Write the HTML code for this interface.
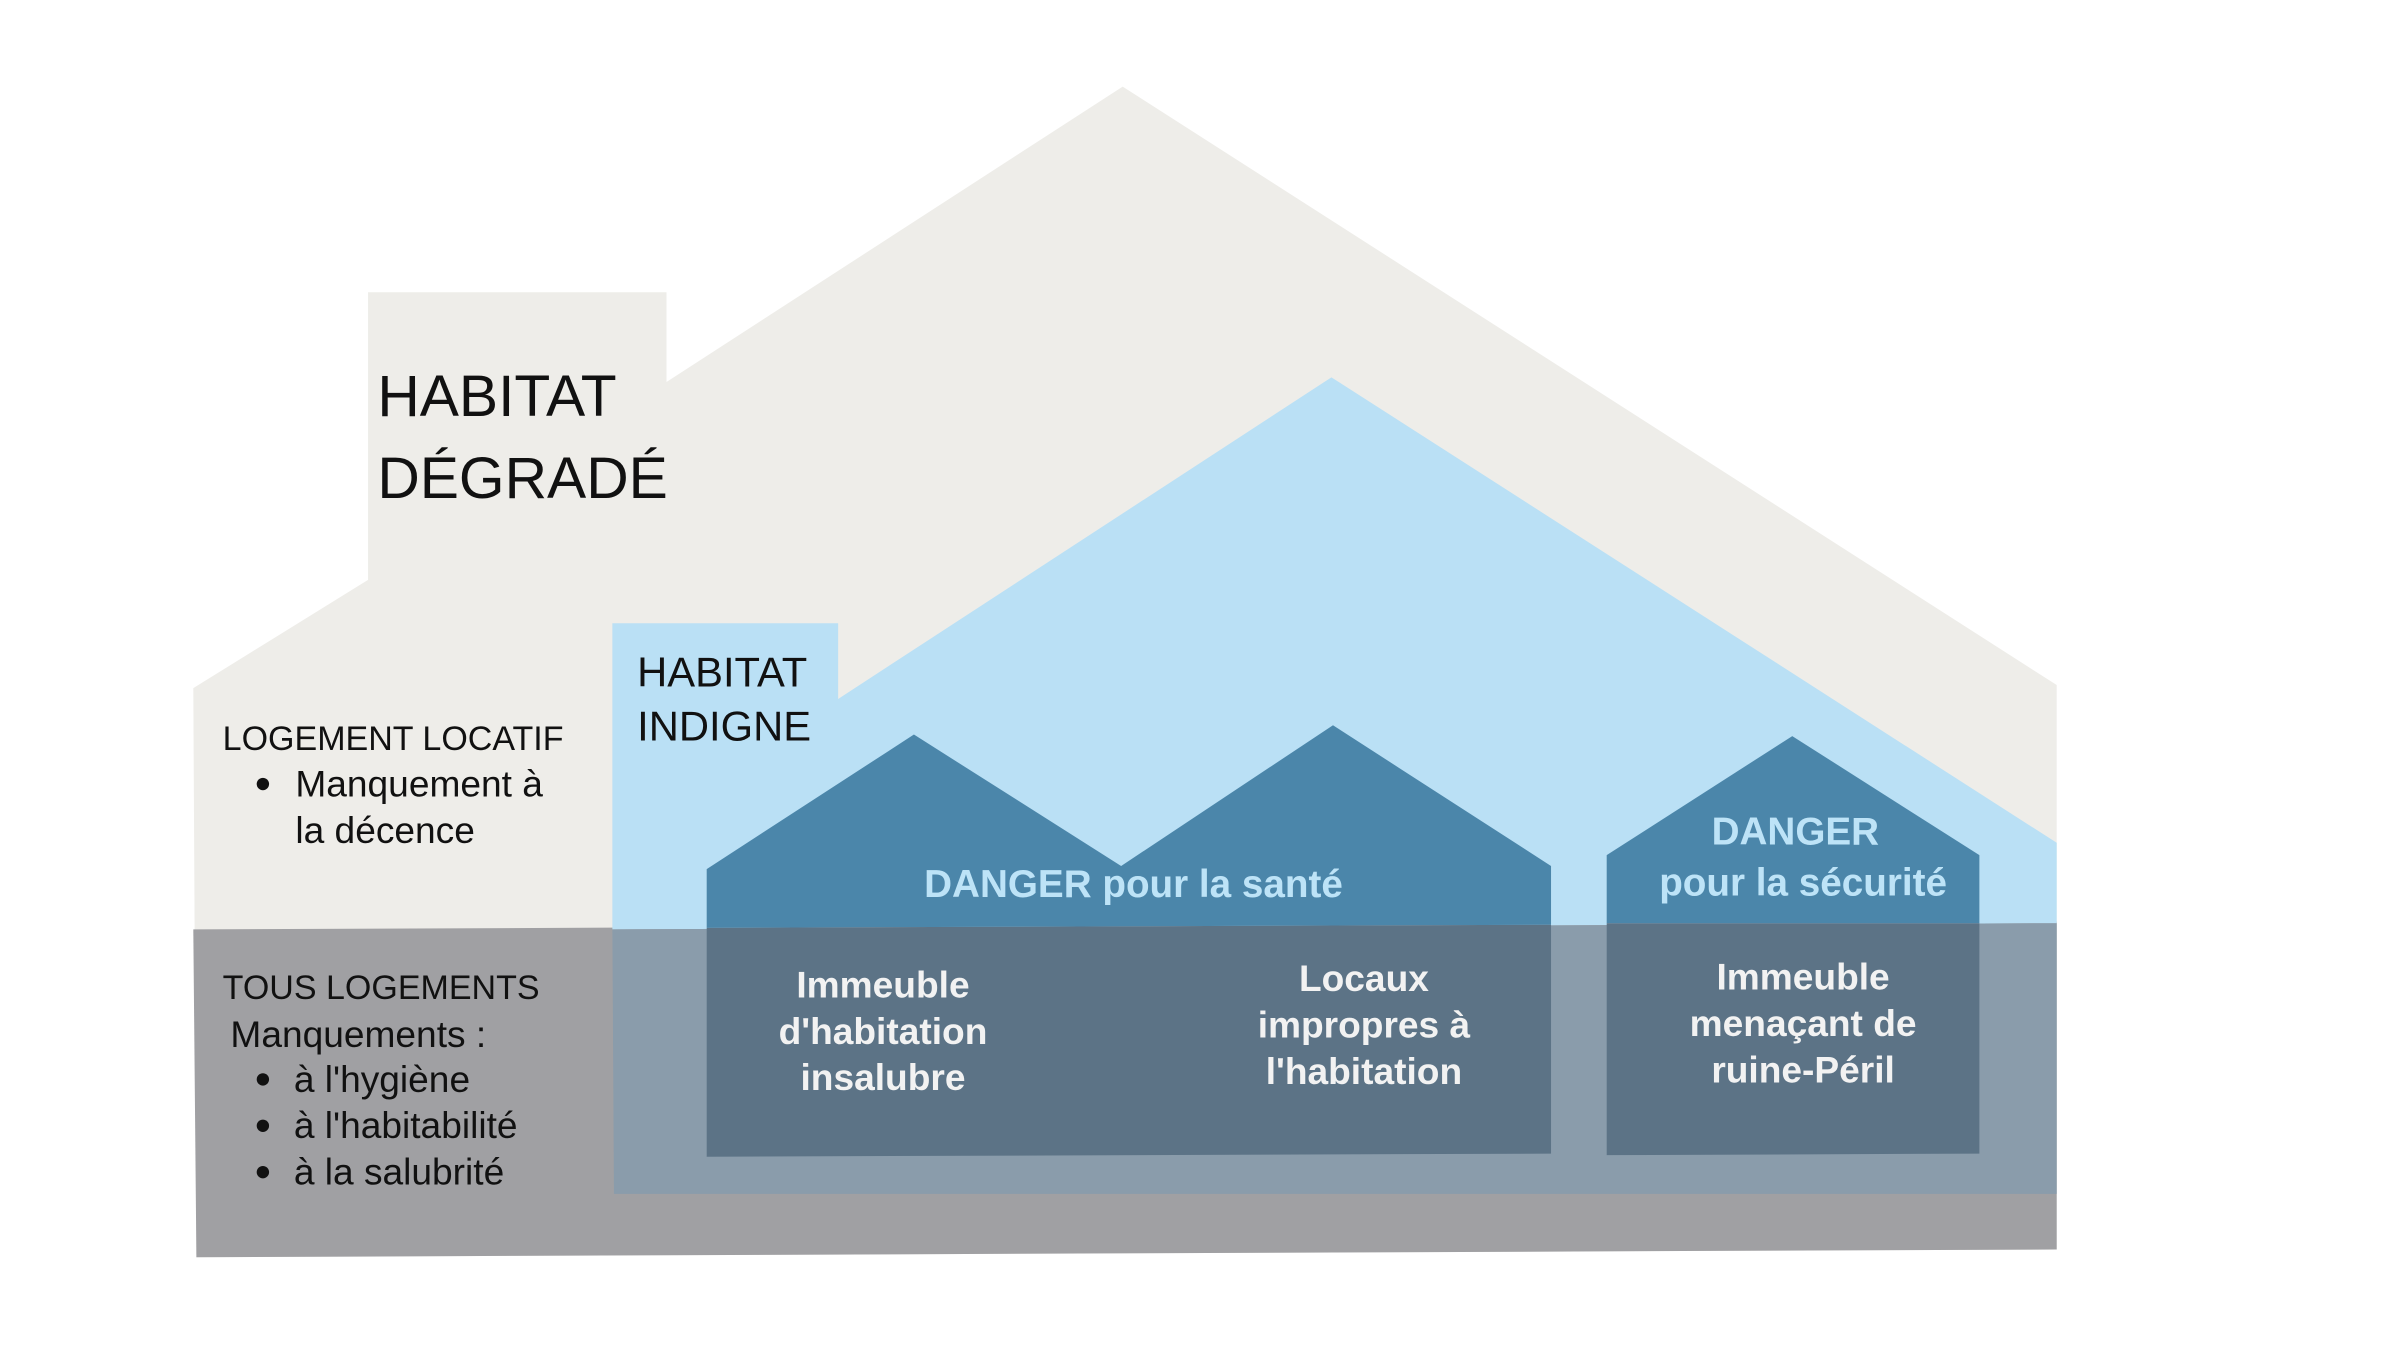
<!DOCTYPE html>
<html><head><meta charset="utf-8"><style>
html,body{margin:0;padding:0;background:#fff;}
svg{display:block;}
text{font-family:"Liberation Sans",sans-serif;}
</style></head><body>
<svg width="2400" height="1350" viewBox="0 0 1552 873" xmlns="http://www.w3.org/2000/svg">
<rect width="1552" height="873" fill="#fff"/>
<polygon points="125,445 238,375 238,189 431,189 431,247 726,56 1330,443 1330,808 127,813" fill="#eeede9"/>
<polygon points="125,601 1330,596 1330,808 127,813" fill="#a0a0a3"/>
<polygon points="396,403 542,403 542,452 861,244 1330,545 1330,597 396,601" fill="#bae0f5"/>
<polygon points="396,601 1330,597 1330,772 397,772" fill="#8a9cab"/>
<polygon points="457,562 591,475 725,560 862,469 1003,560 1003,598 457,600" fill="#4b86aa"/>
<polygon points="1039,553 1159,476 1280,553 1280,597 1039,597" fill="#4b86aa"/>
<polygon points="457,600 1003,598 1003,746 457,748" fill="#5c7386"/>
<polygon points="1039,597 1280,597 1280,746 1039,747" fill="#5c7386"/>

<g fill="#111">
<text x="244" y="269" font-size="38">HABITAT</text>
<text x="244" y="322" font-size="38">DÉGRADÉ</text>
<text x="412" y="444" font-size="27">HABITAT</text>
<text x="412" y="479" font-size="27">INDIGNE</text>
<text x="144" y="485" font-size="22">LOGEMENT LOCATIF</text>
<circle cx="170" cy="507" r="4"/>
<text x="191" y="515" font-size="24">Manquement à</text>
<text x="191" y="545" font-size="24">la décence</text>
<text x="144" y="646" font-size="22">TOUS LOGEMENTS</text>
<text x="149" y="677" font-size="24">Manquements :</text>
<circle cx="170" cy="698" r="4"/>
<text x="190" y="706" font-size="24">à l'hygiène</text>
<circle cx="170" cy="728" r="4"/>
<text x="190" y="736" font-size="24">à l'habitabilité</text>
<circle cx="170" cy="758" r="4"/>
<text x="190" y="766" font-size="24">à la salubrité</text>
</g>
<g fill="#bde3f7" font-weight="bold" font-size="25" text-anchor="middle">
<text x="733" y="580">DANGER  pour la santé</text>
<text x="1161" y="546">DANGER</text>
<text x="1166" y="579">pour la sécurité</text>
</g>
<g fill="#f2f2f2" font-weight="bold" font-size="24" text-anchor="middle">
<text x="571" y="645">Immeuble</text>
<text x="571" y="675">d'habitation</text>
<text x="571" y="705">insalubre</text>
<text x="882" y="641">Locaux</text>
<text x="882" y="671">impropres à</text>
<text x="882" y="701">l'habitation</text>
<text x="1166" y="640">Immeuble</text>
<text x="1166" y="670">menaçant de</text>
<text x="1166" y="700">ruine-Péril</text>
</g>
</svg>
</body></html>
